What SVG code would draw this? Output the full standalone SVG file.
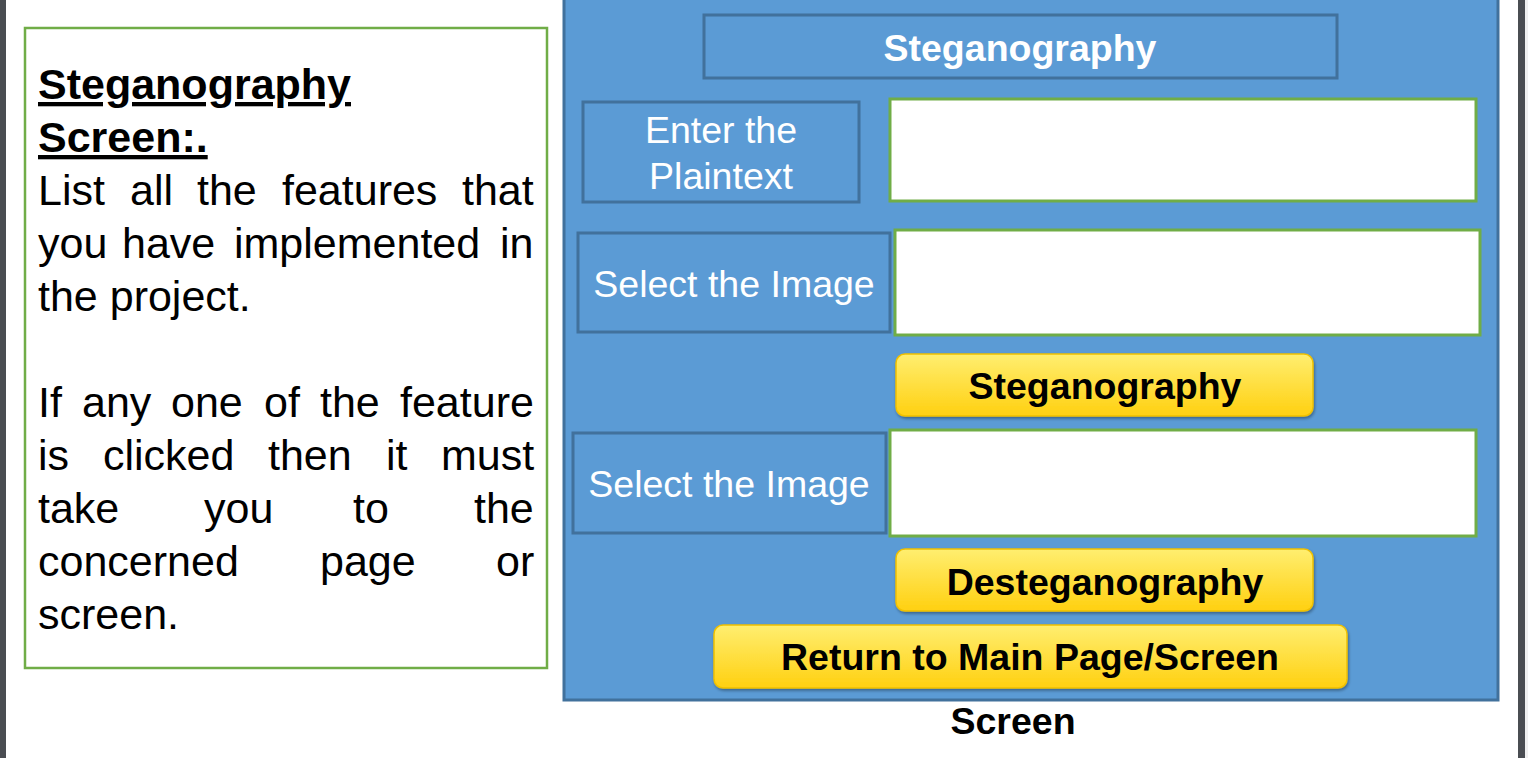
<svg xmlns="http://www.w3.org/2000/svg" width="1528" height="758" viewBox="0 0 1528 758">
<defs>
<linearGradient id="yg" x1="0" y1="0" x2="0" y2="1"><stop offset="0" stop-color="#ffee70"/><stop offset="1" stop-color="#ffd010"/></linearGradient>
<filter id="sh" x="-5%" y="-10%" width="110%" height="130%"><feDropShadow dx="1" dy="2" stdDeviation="1.5" flood-opacity="0.35"/></filter>
</defs>
<style>
text{font-family:"Liberation Sans",Arial,sans-serif}
.lt{font-size:43px;fill:#000}
.lab{fill:#5b9bd5;stroke:#41719c;stroke-width:3}
.lw{font-size:37.5px;fill:#fff;text-anchor:middle}
.inp{fill:#fff;stroke:#70ad47;stroke-width:3}
.btn{fill:url(#yg);stroke:#f0c000;stroke-width:1.5;filter:url(#sh)}
.bt{font-size:37.5px;font-weight:bold;fill:#000;text-anchor:middle}
</style>
<rect width="1528" height="758" fill="#fff"/>
<rect x="0" y="0" width="6" height="758" fill="#4a4d52"/>
<rect x="1518" y="0" width="7" height="758" fill="#4a4d52"/>
<rect x="1525" y="0" width="3" height="758" fill="#f0f0f0"/>
<g id="desc">
<rect x="25" y="28" width="522" height="640" fill="#fff" stroke="#70ad47" stroke-width="2.5"/>
<text class="lt" font-weight="bold" text-decoration="underline" x="38" y="99">Steganography</text>
<text class="lt" font-weight="bold" text-decoration="underline" x="38" y="152">Screen:.</text>
<text class="lt" y="205"><tspan x="38">List</tspan><tspan x="130">all</tspan><tspan x="197">the</tspan><tspan x="282">features</tspan><tspan x="462">that</tspan></text>
<text class="lt" y="258"><tspan x="38">you</tspan><tspan x="122">have</tspan><tspan x="234">implemented</tspan><tspan x="500">in</tspan></text>
<text class="lt" x="38" y="311">the project.</text>
<text class="lt" y="417"><tspan x="38">If</tspan><tspan x="82">any</tspan><tspan x="171">one</tspan><tspan x="264">of</tspan><tspan x="320">the</tspan><tspan x="400">feature</tspan></text>
<text class="lt" y="470"><tspan x="38">is</tspan><tspan x="103">clicked</tspan><tspan x="268">then</tspan><tspan x="386">it</tspan><tspan x="441">must</tspan></text>
<text class="lt" y="523"><tspan x="38">take</tspan><tspan x="204">you</tspan><tspan x="353">to</tspan><tspan x="474">the</tspan></text>
<text class="lt" y="576"><tspan x="38">concerned</tspan><tspan x="320">page</tspan><tspan x="496">or</tspan></text>
<text class="lt" x="38" y="629">screen.</text>
</g>
<g id="screen">
<rect x="564" y="-3" width="934" height="703" fill="#5b9bd5" stroke="#41719c" stroke-width="3"/>
</g>
<g id="title">
<rect class="lab" x="704" y="15" width="633" height="63"/>
<text class="bt" x="1020" y="61" style="fill:#fff">Steganography</text>
</g>
<g id="label1">
<rect class="lab" x="583" y="102" width="276" height="100"/>
<text class="lw" x="721" y="143">Enter the</text>
<text class="lw" x="721" y="189">Plaintext</text>
</g>
<g id="input1"><rect class="inp" x="890" y="99" width="586" height="102"/></g>
<g id="label2">
<rect class="lab" x="578" y="233" width="312" height="99"/>
<text class="lw" x="734" y="297">Select the Image</text>
</g>
<g id="input2"><rect class="inp" x="895" y="230" width="585" height="105"/></g>
<g id="btn1">
<rect class="btn" x="896" y="354" width="417" height="62" rx="9"/>
<text class="bt" x="1105" y="399">Steganography</text>
</g>
<g id="label3">
<rect class="lab" x="573" y="433" width="313" height="100"/>
<text class="lw" x="729" y="497">Select the Image</text>
</g>
<g id="input3"><rect class="inp" x="890" y="430" width="586" height="106"/></g>
<g id="btn2">
<rect class="btn" x="896" y="549" width="417" height="62" rx="9"/>
<text class="bt" x="1105" y="595">Desteganography</text>
</g>
<g id="btn3">
<rect class="btn" x="714" y="625" width="633" height="63" rx="9"/>
<text class="bt" x="1030" y="670">Return to Main Page/Screen</text>
</g>
<g id="caption"><text class="bt" x="1013" y="734">Screen</text></g>
<g id="connectors"></g>
</svg>
